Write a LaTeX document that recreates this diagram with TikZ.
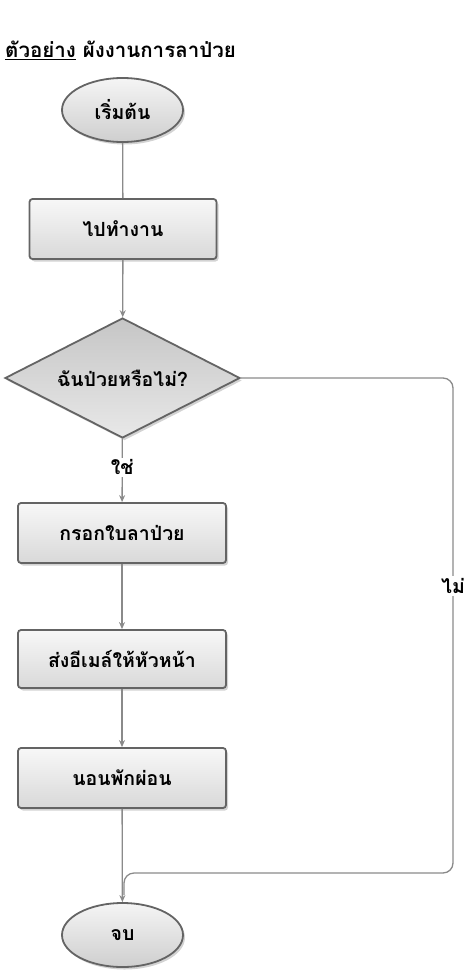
\documentclass[tikz,border=0pt]{standalone}
\usepackage{fontspec}
\newfontfamily\thai[Script=Thai]{Loma}
\usetikzlibrary{shapes.geometric,shadows,arrows.meta}
\definecolor{edgecol}{HTML}{646464}
\definecolor{linecol}{HTML}{8A8A8A}
\begin{document}
\begin{tikzpicture}[x=1pt,y=-1pt,
  font=\thai\bfseries\fontsize{19.5}{22}\selectfont,
  basic/.style={draw=edgecol, line width=1.8pt, inner sep=0pt,
    drop shadow={opacity=0.35, shadow xshift=2pt, shadow yshift=-2.5pt}},
  terminal/.style={basic, ellipse, top color=gray!8, bottom color=gray!38,
    minimum width=121pt, minimum height=64pt},
  process/.style={basic, rectangle, rounded corners=3pt,
    top color=gray!6, bottom color=gray!30, minimum height=60pt},
  decision/.style={basic, diamond, aspect=2, top color=gray!45, bottom color=gray!18,
    minimum width=235pt, minimum height=120pt},
  conn/.style={draw=linecol, line width=1.3pt},
  arr/.style={conn, -{Stealth[length=7pt,width=6pt]}},
  lbl/.style={fill=white, inner sep=2pt}]
\useasboundingbox (0,0) rectangle (474,971);

\node[anchor=west, inner sep=0pt, font=\thai\bfseries\fontsize{20.5}{23}\selectfont] (title) at (5,50)
  {\underline{ตัวอย่าง} ผังงานการลาป่วย};

\node[terminal] (start) at (122.5,110) {เริ่มต้น};
\node[process, minimum width=187pt] (work) at (123,229) {ไปทำงาน};
\node[decision] (sick) at (122.5,378) {ฉันป่วยหรือไม่?};
\node[process, minimum width=208pt] (form) at (122,533) {กรอกใบลาป่วย};
\node[process, minimum width=208pt, minimum height=58pt] (mail) at (122,659) {ส่งอีเมล์ให้หัวหน้า};
\node[process, minimum width=208pt] (rest) at (122,778) {นอนพักผ่อน};
\node[terminal] (stop) at (122.5,935) {จบ};

\coordinate (c1) at (453,378);
\coordinate (c2) at (453,873);
\coordinate (c3) at (124,873);
\coordinate (c4) at (124,895);

\draw[conn] (start) -- (work);
\draw[arr] (work) -- (sick);
\draw[arr] (sick) -- node[lbl, pos=0.45] (yes) {ใช่} (form);
\draw[arr] (form) -- (mail);
\draw[arr] (mail) -- (rest);
\draw[arr] (rest) -- (stop);
\draw[conn, rounded corners=10pt] (sick.east) -- (c1) -- (c2) -- (c3) -- (c4);
\node[lbl] (no) at (453,586) {ไม่};
\end{tikzpicture}
\end{document}
